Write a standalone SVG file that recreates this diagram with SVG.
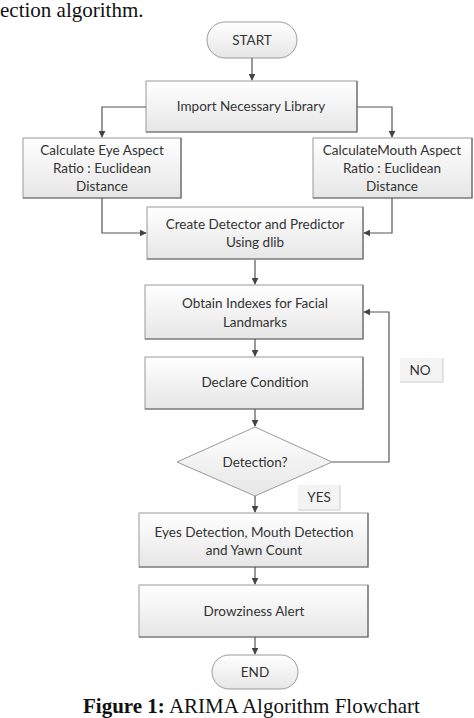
<svg xmlns="http://www.w3.org/2000/svg" width="474" height="718" viewBox="0 0 474 718">
<defs>
<linearGradient id="g" x1="0" y1="0" x2="0" y2="1">
<stop offset="0" stop-color="#ffffff"/>
<stop offset="1" stop-color="#e6e6e6"/>
</linearGradient>
<marker id="ah" viewBox="0 0 10 10" refX="9" refY="5" markerWidth="7" markerHeight="7" markerUnits="userSpaceOnUse" orient="auto">
<path d="M0,0 L10,5 L0,10 z" fill="#444"/>
</marker>
</defs>
<style>
.box{fill:url(#g);stroke:#9a9a9a;stroke-width:1}
.sh{fill:none;stroke:#6a6a6a;stroke-width:1.2}
.t{font-family:Lato,"Open Sans","Liberation Sans",sans-serif;font-size:13.5px;fill:#333;text-anchor:middle}
.c{fill:none;stroke:#555;stroke-width:1.2}
.cap{font-family:"Liberation Serif",serif;font-size:21px;fill:#111}
</style>
<rect width="474" height="718" fill="#fff"/>
<text class="cap" x="0" y="17" font-size="21.5">ection algorithm.</text>

<g id="start">
<rect class="box" x="207" y="22" width="90" height="36" rx="18"/>
<text class="t" x="252" y="45">START</text>
</g>
<g id="import">
<rect class="box" x="146" y="81" width="211" height="51" stroke="none"/>
<path class="sh" d="M357,81 V132 H146"/>
<text class="t" x="251" y="111">Import Necessary Library</text>
</g>
<g id="eye">
<rect class="box" x="23" y="138" width="158" height="60"/>
<path class="sh" d="M181,138 V198 H23"/>
<text class="t" x="102" y="155">Calculate Eye Aspect</text>
<text class="t" x="102" y="173">Ratio : Euclidean</text>
<text class="t" x="102" y="191">Distance</text>
</g>
<g id="mouth">
<rect class="box" x="313" y="138" width="159" height="60"/>
<path class="sh" d="M472,138 V198 H313"/>
<text class="t" x="392" y="155">CalculateMouth Aspect</text>
<text class="t" x="392" y="173">Ratio : Euclidean</text>
<text class="t" x="392" y="191">Distance</text>
</g>
<g id="create">
<rect class="box" x="147" y="207" width="216" height="52"/>
<path class="sh" d="M363,207 V259 H147"/>
<text class="t" x="255" y="229">Create Detector and Predictor</text>
<text class="t" x="255" y="247">Using dlib</text>
</g>
<g id="obtain">
<rect class="box" x="145" y="285" width="218" height="54"/>
<path class="sh" d="M363,285 V339 H145"/>
<text class="t" x="255" y="308">Obtain Indexes for Facial</text>
<text class="t" x="255" y="327">Landmarks</text>
</g>
<g id="declare">
<rect class="box" x="145" y="357" width="218" height="52"/>
<path class="sh" d="M363,357 V409 H145"/>
<text class="t" x="255" y="387">Declare Condition</text>
</g>
<g id="detection">
<polygon class="box" points="255,427 332,462 255,496 177,462"/>
<text class="t" x="255" y="467">Detection?</text>
</g>
<g id="no">
<rect x="400" y="358" width="43" height="24" fill="#f3f3f3"/>
<path d="M443,358 V382 H400" fill="none" stroke="#ccc"/>
<text class="t" x="420" y="375">NO</text>
</g>
<g id="yes">
<rect x="298" y="485" width="42" height="25" fill="#f3f3f3"/>
<path d="M340,485 V510 H298" fill="none" stroke="#ccc"/>
<text class="t" x="319" y="502">YES</text>
</g>
<g id="eyes">
<rect class="box" x="139" y="513" width="229" height="54"/>
<path class="sh" d="M368,513 V567 H139"/>
<text class="t" x="254" y="537">Eyes Detection, Mouth Detection</text>
<text class="t" x="254" y="555">and Yawn Count</text>
</g>
<g id="alert">
<rect class="box" x="139" y="585" width="229" height="52"/>
<path class="sh" d="M368,585 V637 H139"/>
<text class="t" x="254" y="616">Drowziness Alert</text>
</g>
<g id="end">
<rect class="box" x="212" y="655" width="86" height="34" rx="17"/>
<text class="t" x="255" y="677">END</text>
</g>

<g id="connectors">
<path class="c" d="M252,58 V80" marker-end="url(#ah)"/>
<path class="c" d="M146,107 H102 V137" marker-end="url(#ah)"/>
<path class="c" d="M357,107 H392 V137" marker-end="url(#ah)"/>
<path class="c" d="M102,198 V233 H146" marker-end="url(#ah)"/>
<path class="c" d="M392,198 V233 H364" marker-end="url(#ah)"/>
<path class="c" d="M255,260 V284" marker-end="url(#ah)"/>
<path class="c" d="M255,339 V356" marker-end="url(#ah)"/>
<path class="c" d="M255,409 V426" marker-end="url(#ah)"/>
<path class="c" d="M332,462 H389 V312 H364" marker-end="url(#ah)"/>
<path class="c" d="M255,496 V512" marker-end="url(#ah)"/>
<path class="c" d="M255,567 V584" marker-end="url(#ah)"/>
<path class="c" d="M255,637 V654" marker-end="url(#ah)"/>
</g>

<text class="cap" x="83" y="713" font-size="20.5"><tspan font-weight="bold">Figure 1:</tspan> ARIMA Algorithm Flowchart</text>
</svg>
